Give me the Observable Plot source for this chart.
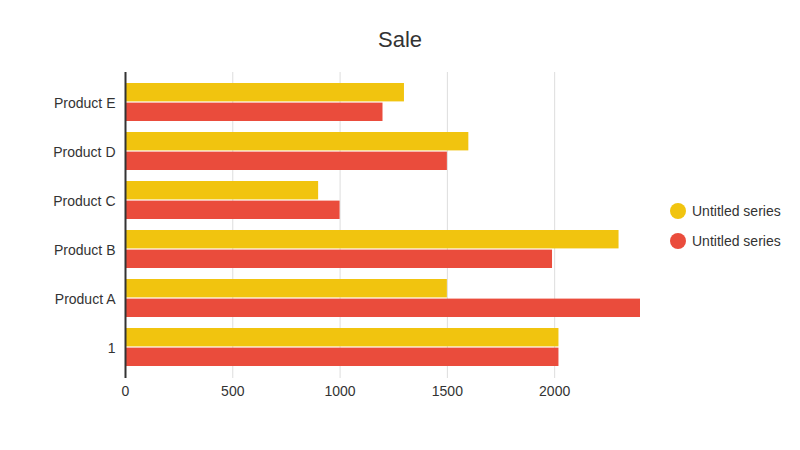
<!DOCTYPE html>
<html><head><meta charset="utf-8">
<script src="https://cdn.jsdelivr.net/npm/d3@7"></script>
<script src="https://cdn.jsdelivr.net/npm/@observablehq/plot@0.6"></script>
<style>
body{margin:0;background:#fff;font-family:"Liberation Sans",Arial,sans-serif;}
#wrap{position:relative;width:800px;height:450px;}
#title{height:60px;line-height:80px;text-align:center;font-size:22px;color:#333;}
#legend{position:absolute;left:670px;top:196px;font-size:14px;color:#333;}
.item{display:flex;align-items:center;height:30px;}
.dot{width:16px;height:16px;border-radius:50%;margin-right:6px;}
</style></head>
<body><div id="wrap"><div id="title">Sale</div><div id="chart"></div><div id="legend"></div></div>
<script>
const categories = ["Product E","Product D","Product C","Product B","Product A","1"];
const series1 = [1300,1600,900,2300,1500,2020];
const series2 = [1200,1500,1000,1990,2400,2020];
const seriesNames = ["Untitled series","Untitled series"];
const colors = ["#F1C40F","#EA4C3C"];
const xTicks = [0,500,1000,1500,2000];

const d1 = categories.map((c,i)=>({cat:c,v:series1[i]}));
const d2 = categories.map((c,i)=>({cat:c,v:series2[i]}));

const chart = Plot.plot({
  width:800, height:390,
  marginLeft:125, marginRight:160, marginTop:12, marginBottom:72,
  style:{fontFamily:"'Liberation Sans', Arial, sans-serif", fontSize:"14px", color:"#333"},
  x:{domain:[0,2400], ticks:xTicks, tickFormat:d=>String(d), tickSize:0, tickPadding:8, label:null},
  y:{domain:categories, padding:0.23, tickSize:0, tickPadding:10, label:null},
  marks:[
    Plot.ruleX(xTicks.slice(1), {stroke:"#ddd", strokeWidth:1}),
    Plot.barX(d1, {x:"v", y:"cat", fill:colors[0], insetBottom:19.6, dy:-1}),
    Plot.barX(d2, {x:"v", y:"cat", fill:colors[1], insetTop:19.6, dy:-1}),
    Plot.ruleX([0], {stroke:"#333", strokeWidth:2})
  ]
});
chart.querySelectorAll('[aria-label="x-axis tick label"] text, [aria-label="y-axis tick label"] text').forEach(t=>t.setAttribute("fill","#333"));
document.getElementById("chart").appendChild(chart);

const lg = document.getElementById("legend");
seriesNames.forEach((n,i)=>{
  const it=document.createElement("div");it.className="item";
  it.innerHTML=`<span class="dot" style="background:${colors[i]}"></span><span>${n}</span>`;
  lg.appendChild(it);
});
</script></body></html>
